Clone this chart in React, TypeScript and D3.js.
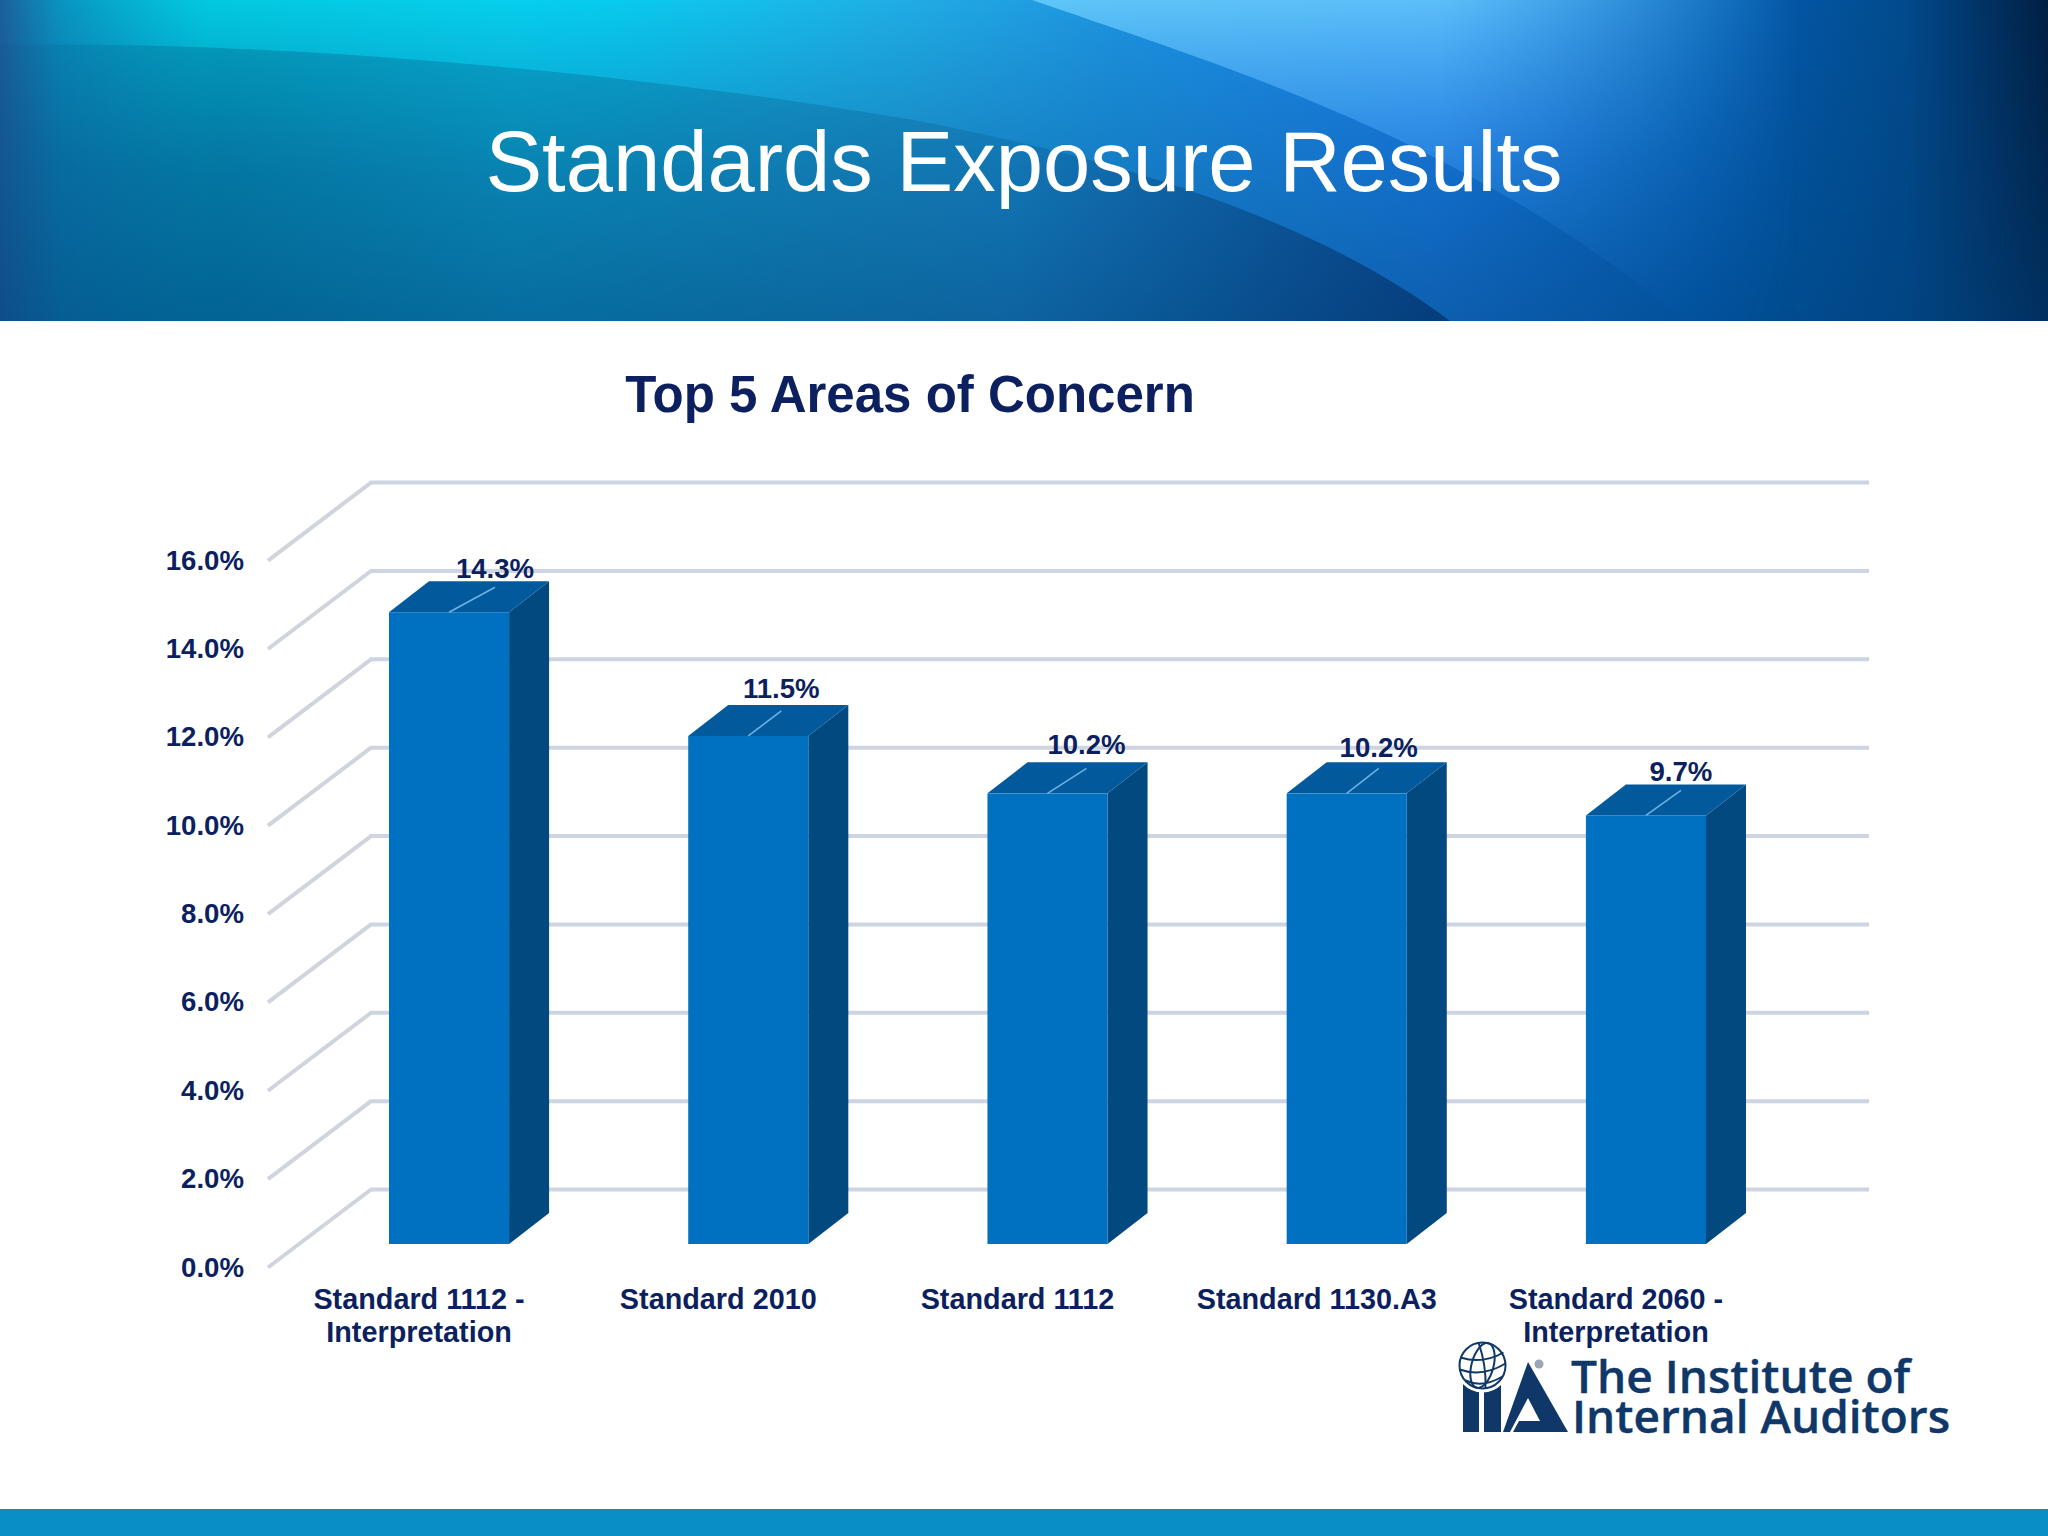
import React from "react";
import * as d3 from "d3";

const categories = [
  ["Standard 1112 -", "Interpretation"],
  ["Standard 2010"],
  ["Standard 1112"],
  ["Standard 1130.A3"],
  ["Standard 2060 -", "Interpretation"],
];
const values = [14.3, 11.5, 10.2, 10.2, 9.7];
const valueLabels = ["14.3%", "11.5%", "10.2%", "10.2%", "9.7%"];
const yTicks = [0, 2, 4, 6, 8, 10, 12, 14, 16];
const leaderEndDx = [46, 33, 39, 32, 35];
const labelDy = [1, -3, -4, -1, 1];

const NAVY = "#0c1f5f";
const LOGO = "#0f3768";
const FONT = "'Liberation Sans', Arial, sans-serif";
const W = 2048, H = 1536;
const floorFrontY = 1267.5;
const barBaseY = 1244;
const pxPerUnit = 44.18;
const gridX0 = 268, gridX1 = 371, gridX2 = 1869, depthY = 78;
const barDx = 40, barDy = 31;

const y = d3.scaleLinear().domain([0, 16]).range([floorFrontY, floorFrontY - 16 * pxPerUnit]);
const h = d3.scaleLinear().domain([0, 16]).range([0, 16 * pxPerUnit]);
const x = d3
  .scaleBand<number>()
  .domain(d3.range(values.length))
  .range([389, 1586 + 120])
  .paddingInner(179 / 299)
  .paddingOuter(0);
const line = d3.line();

export default function App() {
  const bw = x.bandwidth();
  return (
    <svg
      width={W}
      height={H}
      viewBox={`0 0 ${W} ${H}`}
      style={{ position: "absolute", left: 0, top: 0, display: "block", background: "#fff" }}
    >
      <defs>
        <linearGradient id="hdr" x1="0" x2="1" y1="0" y2="0">
          <stop offset="0" stopColor="#1d5f9b" />
          <stop offset="0.03" stopColor="#0c84b8" />
          <stop offset="0.1" stopColor="#06a6cb" />
          <stop offset="0.25" stopColor="#0fb9e4" />
          <stop offset="0.45" stopColor="#1e9fdc" />
          <stop offset="0.7" stopColor="#1a7ee6" />
          <stop offset="0.83" stopColor="#0360b8" />
          <stop offset="0.93" stopColor="#024a8c" />
          <stop offset="1" stopColor="#011f43" />
        </linearGradient>
        <linearGradient id="hdrV" x1="0" x2="0" y1="0" y2="1">
          <stop offset="0" stopColor="#00407a" stopOpacity="0" />
          <stop offset="0.4" stopColor="#00407a" stopOpacity="0.2" />
          <stop offset="1" stopColor="#00407a" stopOpacity="0.5" />
        </linearGradient>
        <linearGradient id="hdrTop" x1="0" x2="1" y1="0" y2="0">
          <stop offset="0" stopColor="#00e5ef" stopOpacity="0" />
          <stop offset="0.1" stopColor="#00e5ef" stopOpacity="0.55" />
          <stop offset="0.3" stopColor="#00dcf5" stopOpacity="0.6" />
          <stop offset="0.55" stopColor="#45c8ff" stopOpacity="0" />
        </linearGradient>
        <linearGradient id="hdrTopV" x1="0" x2="0" y1="0" y2="1">
          <stop offset="0" stopColor="#fff" />
          <stop offset="0.55" stopColor="#000" />
        </linearGradient>
        <mask id="topMask">
          <rect width={W} height={321} fill="url(#hdrTopV)" />
        </mask>
        <linearGradient id="sweep" x1="0" x2="1" y1="0" y2="0">
          <stop offset="0" stopColor="#00305e" stopOpacity="0.05" />
          <stop offset="0.15" stopColor="#00305e" stopOpacity="0.24" />
          <stop offset="0.7" stopColor="#00305e" stopOpacity="0.16" />
          <stop offset="1" stopColor="#00204e" stopOpacity="0.55" />
        </linearGradient>
        <linearGradient id="light" x1="0" x2="0" y1="0" y2="1">
          <stop offset="0" stopColor="#74d4ff" stopOpacity="0.75" />
          <stop offset="0.5" stopColor="#4aa6ff" stopOpacity="0.38" />
          <stop offset="1" stopColor="#0a70c8" stopOpacity="0.2" />
        </linearGradient>
        <linearGradient id="lightFade" x1="0" x2="1" y1="0" y2="0">
          <stop offset="0" stopColor="#fff" />
          <stop offset="0.55" stopColor="#fff" />
          <stop offset="1" stopColor="#000" />
        </linearGradient>
        <mask id="lightMask">
          <rect x={1000} width={800} height={321} fill="url(#lightFade)" />
        </mask>
      </defs>

      {/* header */}
      <rect width={W} height={321} fill="url(#hdr)" />
      <rect width={W} height={321} fill="url(#hdrTop)" mask="url(#topMask)" />
      <rect width={W} height={321} fill="url(#hdrV)" />
      <path d="M0,45 C260,40 620,70 914,120 C1150,165 1330,230 1450,321 L0,321 Z" fill="url(#sweep)" />
      <path
        d="M1032,0 C1220,65 1470,140 1685,321 L1800,321 L1800,0 Z"
        fill="url(#light)"
        mask="url(#lightMask)"
      />
      <text x={1024} y={191} textAnchor="middle" fill="#fff" fontFamily={FONT} fontSize={85}>
        Standards Exposure Results
      </text>

      {/* bottom band */}
      <rect y={1509} width={W} height={27} fill="#0a8fc4" />

      <text x={910} y={412} textAnchor="middle" fill={NAVY} fontFamily={FONT} fontWeight={700} fontSize={51}>
        Top 5 Areas of Concern
      </text>

      {/* grid */}
      <g fill="none" strokeWidth={4}>
        {yTicks.map((t) => (
          <g key={t}>
            <path
              stroke="#d0d4dc"
              d={line([[gridX0, y(t)], [gridX1, y(t) - depthY]]) as string}
            />
            <path
              stroke="#cdd4e2"
              d={line([[gridX1 - 1, y(t) - depthY], [gridX2, y(t) - depthY]]) as string}
            />
          </g>
        ))}
      </g>

      {/* y axis */}
      {yTicks.map((t) => (
        <text
          key={t}
          x={244}
          y={y(t) + 9}
          textAnchor="end"
          fill={NAVY}
          fontFamily={FONT}
          fontWeight={700}
          fontSize={27.6}
        >
          {t.toFixed(1)}%
        </text>
      ))}

      {/* bars */}
      {values.map((v, i) => {
        const x0 = x(i) as number;
        const x1 = x0 + bw;
        const top = barBaseY - h(v);
        return (
          <g key={i}>
            <path
              d={`M${x1},${top}L${x1 + barDx},${top - barDy}L${x1 + barDx},${barBaseY - barDy}L${x1},${barBaseY}Z`}
              fill="#02497f"
            />
            <path
              d={`M${x0},${top}L${x0 + barDx},${top - barDy}L${x1 + barDx},${top - barDy}L${x1},${top}Z`}
              fill="#025a9c"
            />
            <rect x={x0} y={top} width={bw} height={h(v)} fill="#0070c0" />
            <path
              d={`M${x0 + bw / 2},${top}L${x0 + bw / 2 + leaderEndDx[i]},${top - 25}`}
              stroke="#6db3e6"
              strokeWidth={1.5}
              fill="none"
            />
            <text
              x={x0 + bw / 2 + leaderEndDx[i]}
              y={top - 35 + labelDy[i]}
              textAnchor="middle"
              fill={NAVY}
              fontFamily={FONT}
              fontWeight={700}
              fontSize={27.6}
            >
              {valueLabels[i]}
            </text>
            {categories[i].map((ln, k) => (
              <text
                key={k}
                x={x0 + bw / 2 - 30}
                y={1309 + k * 33}
                textAnchor="middle"
                fill={NAVY}
                fontFamily={FONT}
                fontWeight={700}
                fontSize={28.8}
              >
                {ln}
              </text>
            ))}
          </g>
        );
      })}

      {/* logo */}
      <g fill={LOGO}>
        <rect x={1463} y={1382} width={16} height={50} />
        <rect x={1484} y={1382} width={17} height={50} />
        <path d="M1528,1362 L1568,1432 L1513,1432 L1519,1421 L1540,1421 L1528,1398 L1510,1432 L1503,1432 Z" />
        <g transform="translate(1482.5,1365.5)" stroke={LOGO} strokeWidth={2}>
          <circle r={24} fill="#fff" stroke="#fff" strokeWidth={6} />
          <circle r={23} fill="#fff" />
          <g fill="none">
            <ellipse rx={11} ry={23} transform="rotate(15)" />
            <path d="M-22,-8 Q0,-1 21,-13 M-23,4 Q0,12 23,-2 M-17,15 Q0,23 20,11 M-4,-23 Q4,0 3,23" />
          </g>
        </g>
        <circle cx={1539} cy={1364} r={4.5} fill="#9aa7b8" />
        <text x={1571} y={1393} fontFamily="'Open Sans', sans-serif" fontWeight={600} fontSize={46} stroke={LOGO} strokeWidth={0.4}>
          The Institute of
        </text>
        <text x={1572} y={1433} fontFamily="'Open Sans', sans-serif" fontWeight={600} fontSize={46} stroke={LOGO} strokeWidth={0.4}>
          Internal Auditors
        </text>
      </g>
    </svg>
  );
}
